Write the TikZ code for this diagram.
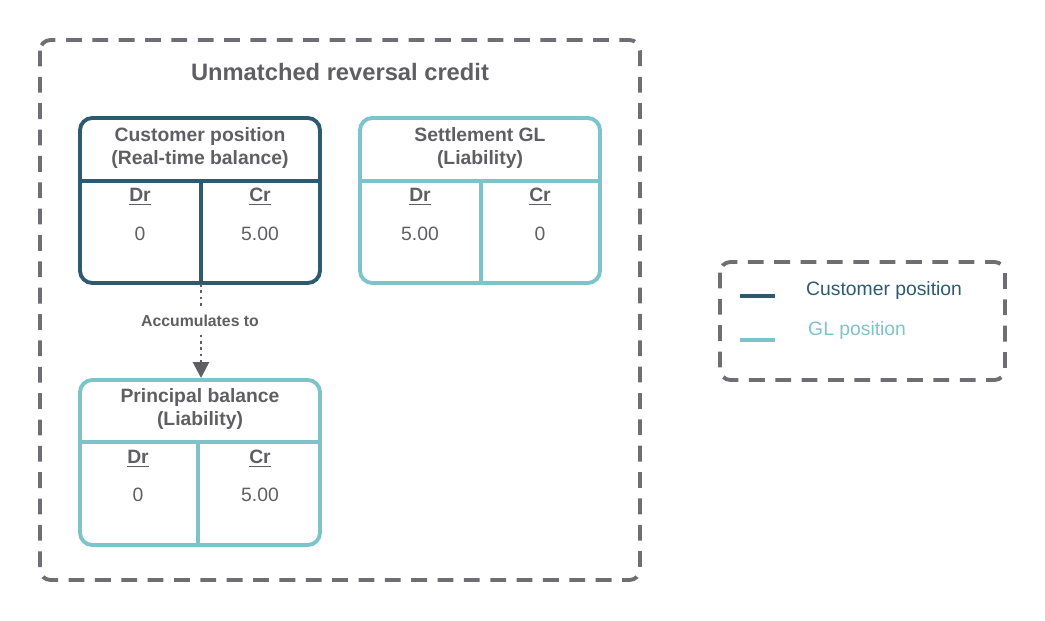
\documentclass[tikz,border=0pt]{standalone}
\usepackage{fontspec}
\setmainfont{Liberation Sans}
\usetikzlibrary{arrows.meta}
\definecolor{dark}{HTML}{2E5A70}
\definecolor{light}{HTML}{7DC3CA}
\definecolor{txt}{HTML}{5F5F63}
\begin{document}
\begin{tikzpicture}[x=0.02cm, y=-0.02cm]
    % Styles
    \tikzset{
        frame/.style={draw=txt!90, line width=2.2pt, dash pattern=on 9pt off 6pt, rounded corners=6pt},
        account/.style={line width=2.2pt, rounded corners=7pt},
        head/.style={font=\fontsize{11}{13}\selectfont\bfseries, text=txt, align=center},
        col/.style={font=\fontsize{11}{13}\selectfont\bfseries, text=txt},
        amount/.style={font=\fontsize{11}{13}\selectfont, text=txt},
        arrow/.style={draw=txt, line width=1.6pt, dotted, -{Triangle[length=9pt,width=9pt]}}
    }
    \useasboundingbox (0,0) rectangle (1045,621);

    % Outer frame
    \draw[frame] (40,40) rectangle (640,580);
    \node[font=\fontsize{13.5}{16}\selectfont\bfseries, text=txt] (title) at (340,72) {Unmatched reversal credit};

    % Customer position
    \draw[account, draw=dark] (80,118) rectangle (320,283);
    \draw[line width=2.2pt, dark] (80,181) -- (320,181) (201,181) -- (201,283);
    \node[head] (cust) at (200,148) {Customer position\\(Real-time balance)};
    \node[col] (custdr) at (140,197) {\underline{Dr}};
    \node[col] (custcr) at (260,197) {\underline{Cr}};
    \node[amount] (custdrv) at (140,234) {0};
    \node[amount] (custcrv) at (260,234) {5.00};

    % Settlement GL
    \draw[account, draw=light] (360,118) rectangle (600,283);
    \draw[line width=2.2pt, light] (360,181) -- (600,181) (481,181) -- (481,283);
    \node[head] (settle) at (480,148) {Settlement GL\\(Liability)};
    \node[col] (setdr) at (420,197) {\underline{Dr}};
    \node[col] (setcr) at (540,197) {\underline{Cr}};
    \node[amount] (setdrv) at (420,234) {5.00};
    \node[amount] (setcrv) at (540,234) {0};

    % Principal balance
    \draw[account, draw=light] (80,380) rectangle (320,545);
    \draw[line width=2.2pt, light] (80,442) -- (320,442) (198,442) -- (198,545);
    \node[head] (princ) at (200,409) {Principal balance\\(Liability)};
    \node[col] (prdr) at (138,459) {\underline{Dr}};
    \node[col] (prcr) at (260,459) {\underline{Cr}};
    \node[amount] (prdrv) at (138,495) {0};
    \node[amount] (prcrv) at (260,495) {5.00};

    % Arrow
    \coordinate (from) at (201,284);
    \coordinate (to) at (201,378);
    \draw[arrow] (from) -- (to);
    \node[fill=white, font=\fontsize{9}{11}\selectfont\bfseries, text=txt] (acc) at (200,321) {Accumulates to};

    % Legend
    \draw[frame] (720,262) rectangle (1005,380);
    \coordinate (l1a) at (740,296); \coordinate (l1b) at (775,296);
    \coordinate (l2a) at (740,340); \coordinate (l2b) at (775,340);
    \draw[line width=2.4pt, dark] (l1a) -- (l1b);
    \draw[line width=2.4pt, light] (l2a) -- (l2b);
    \node[anchor=west, font=\fontsize{11}{13}\selectfont, text=dark] (lcust) at (800,291) {Customer position};
    \node[anchor=west, font=\fontsize{11}{13}\selectfont, text=light] (lgl) at (802,331) {GL position};
\end{tikzpicture}
\end{document}
